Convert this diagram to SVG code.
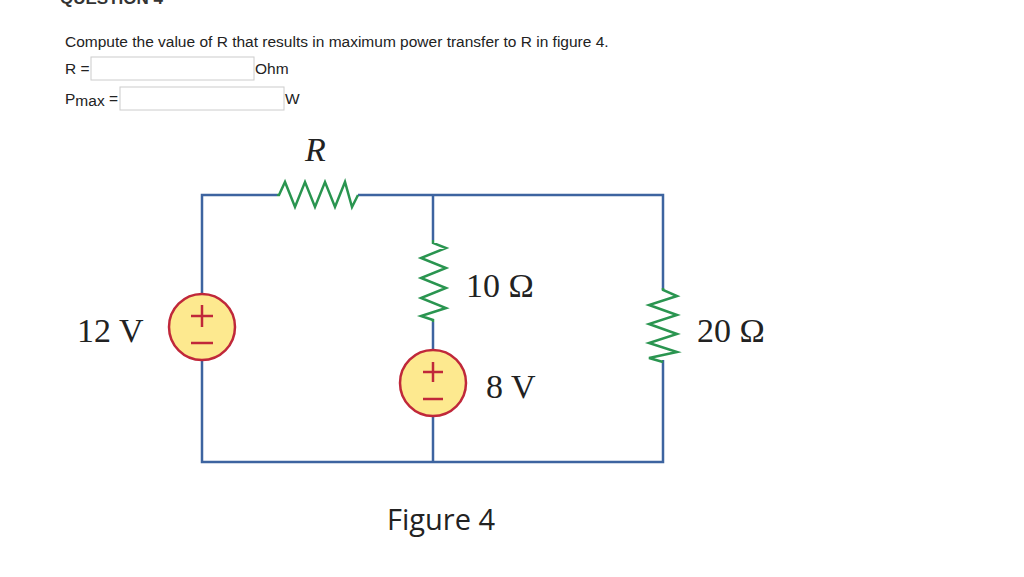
<svg xmlns="http://www.w3.org/2000/svg" width="1024" height="577" viewBox="0 0 1024 577">
<style>
.w{fill:none;stroke:#3d64a0;stroke-width:2.5}
.r{fill:none;stroke:#2a9550;stroke-width:2.5;stroke-linejoin:miter}
.s{fill:#fde98f;stroke:#c0283a;stroke-width:2.5}
.pm{stroke:#c0283a;stroke-width:2.5}
.ui{font-family:"Liberation Sans",Arial,sans-serif;font-size:15.5px;fill:#222}
.box{fill:#fff;stroke:#ccc;stroke-width:1}
.lb{font-family:"Liberation Serif","Times New Roman",serif;font-size:34px;fill:#222}
</style>
<rect width="1024" height="577" fill="#fff"/>
<text x="60" y="4" font-family="Liberation Sans,Arial,sans-serif" font-weight="bold" font-size="17" fill="#333">QUESTION 4</text>
<text class="ui" x="65" y="47">Compute the value of R that results in maximum power transfer to R in figure 4.</text>
<text class="ui" x="65" y="74">R =</text>
<rect class="box" x="91" y="57" width="163" height="23"/>
<text class="ui" x="255" y="74">Ohm</text>
<text class="ui" x="65" y="104">P<tspan dy="2">max</tspan><tspan dy="-2"> =</tspan></text>
<rect class="box" x="120" y="87" width="164" height="23"/>
<text class="ui" x="285" y="104">W</text>
<g id="connectors">
<polyline class="w" points="202,294 202,195 277,195"/>
<polyline class="w" points="358,195 663,195 663,290"/>
<polyline class="w" points="433,195 433,240"/>
<polyline class="w" points="433,322 433,350"/>
<polyline class="w" points="202,360 202,462 663,462 663,360"/>
<polyline class="w" points="433,416 433,462"/>
</g>
<g id="R">
<polyline class="r" points="277,195 279,195 285,182 295,207 305,182 315,207 325,182 335,207 345,182 352,207 358,195"/>
<text class="lb" x="305" y="161" font-style="italic" font-size="34">R</text>
</g>
<g id="R10">
<polyline class="r" points="433,240 433,243 446,248 421,258 446,268 421,278 446,288 421,298 446,308 421,316 433,320 433,322"/>
<text class="lb" x="466" y="297">10 Ω</text>
</g>
<g id="R20">
<polyline class="r" points="663,288 663,290 677,296 649,305 677,315 649,324 677,334 649,343 677,352 649,358 663,362"/>
<text class="lb" x="697" y="342">20 Ω</text>
</g>
<g id="V12">
<circle class="s" cx="202" cy="327" r="33"/>
<line class="pm" x1="191" y1="316" x2="213" y2="316"/><line class="pm" x1="202" y1="305" x2="202" y2="327"/>
<line class="pm" x1="191" y1="343" x2="213" y2="343"/>
<text class="lb" x="77" y="342">12 V</text>
</g>
<g id="V8">
<circle class="s" cx="433" cy="383" r="33"/>
<line class="pm" x1="423" y1="372" x2="443" y2="372"/><line class="pm" x1="433" y1="362" x2="433" y2="382"/>
<line class="pm" x1="423" y1="399" x2="443" y2="399"/>
<text class="lb" x="486" y="398">8 V</text>
</g>
<text x="387" y="530" font-family="Open Sans,Liberation Sans,sans-serif" font-size="29" fill="#222">Figure 4</text>
</svg>
